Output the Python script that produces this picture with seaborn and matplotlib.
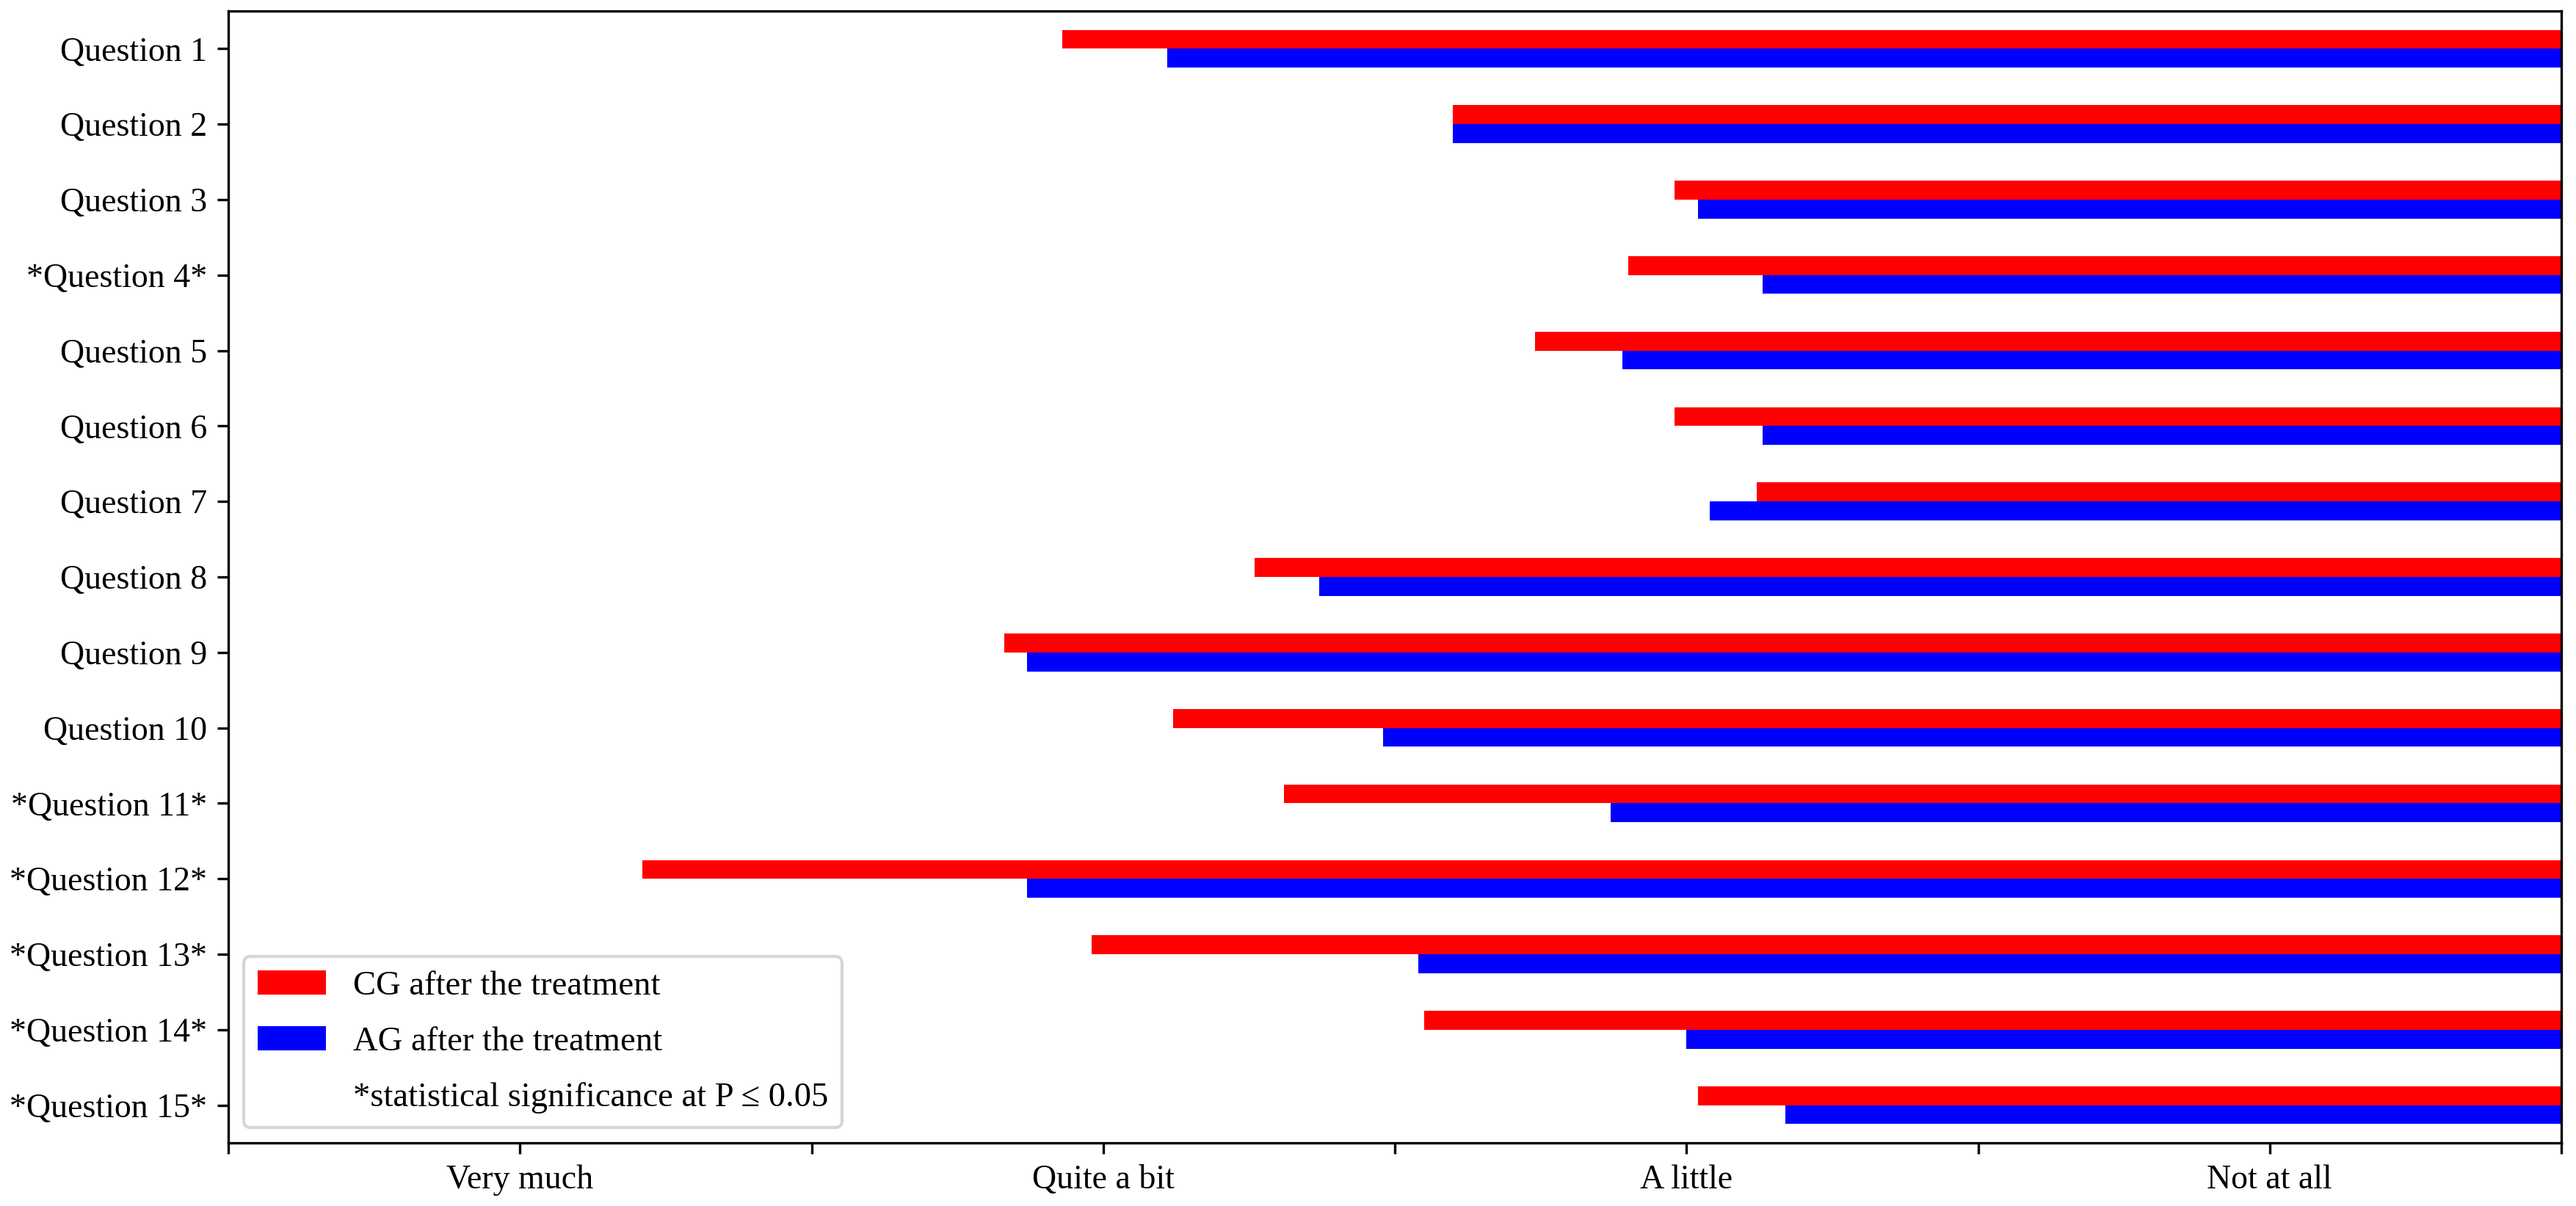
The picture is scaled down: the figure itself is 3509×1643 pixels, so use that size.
import matplotlib
matplotlib.use("Agg")
import matplotlib.pyplot as plt
import pandas as pd
import seaborn as sns
from matplotlib.patches import Patch

plt.rcParams['font.family'] = ['Liberation Serif', 'DejaVu Serif']
plt.rcParams['font.size'] = 11

questions = [
    "Question 1", "Question 2", "Question 3", "*Question 4*", "Question 5",
    "Question 6", "Question 7", "Question 8", "Question 9", "Question 10",
    "*Question 11*", "*Question 12*", "*Question 13*", "*Question 14*", "*Question 15*",
]
cg_after = [3.07, 2.40, 2.02, 2.10, 2.26, 2.02, 1.88, 2.74, 3.17, 2.88, 2.69, 3.79, 3.02, 2.45, 1.98]
ag_after = [2.89, 2.40, 1.98, 1.87, 2.11, 1.87, 1.96, 2.63, 3.13, 2.52, 2.13, 3.13, 2.46, 2.00, 1.83]
groups = ["CG after the treatment", "AG after the treatment"]
tick_pos = [4.5, 4.0, 3.5, 3.0, 2.5, 2.0, 1.5, 1.0, 0.5]
tick_labels = ["", "Very much", "", "Quite a bit", "", "A little", "", "Not at all", ""]
note = "*statistical significance at P \u2264 0.05"

df = pd.DataFrame({
    "question": questions * 2,
    "group": [groups[0]] * len(questions) + [groups[1]] * len(questions),
    "value": cg_after + ag_after,
})

COLORS = {groups[0]: "#ff0000", groups[1]: "#0000ff"}

fig = plt.figure(figsize=(3509 / 300, 1643 / 300), dpi=300)
ax = fig.add_axes([311 / 3509, 1 - 1557 / 1643, (3489 - 311) / 3509, (1557 - 15) / 1643])

sns.barplot(
    df, x="value", y="question", hue="group", orient="h",
    order=questions, hue_order=groups, palette=COLORS,
    width=0.5, saturation=1, linewidth=0, legend=False, ax=ax,
)

# inverted scale: bars grow from the right edge
ax.set_xlim(4.5, 0.5)
ax.set_ylim(len(questions) - 0.5, -0.5)
ax.set_xticks(tick_pos)
ax.set_xticklabels(tick_labels)
ax.set_xlabel("")
ax.set_ylabel("")

handles = [
    Patch(facecolor=COLORS[groups[0]], label=groups[0]),
    Patch(facecolor=COLORS[groups[1]], label=groups[1]),
    Patch(color="none", label=note),
]
ax.legend(handles=handles, loc="lower left", fontsize=11.2, labelspacing=0.72,
          borderaxespad=0.45)

fig.savefig("out.png", dpi=300)
